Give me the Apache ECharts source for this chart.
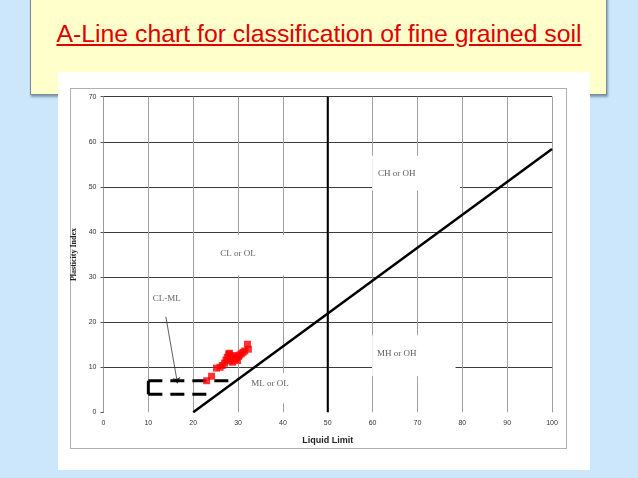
<!DOCTYPE html>
<html>
<head>
<meta charset="utf-8">
<script src="https://cdn.jsdelivr.net/npm/echarts@6/dist/echarts.min.js"></script>
<style>
  html, body { margin: 0; padding: 0; }
  body { width: 638px; height: 478px; background: #cce6fc; position: relative; overflow: hidden; }
  #ybox { position: absolute; left: 30px; top: -4px; width: 575px; height: 97px; background: #ffffcc; border: 1px solid #7a8a99; box-shadow: 1px 2px 2px rgba(60,80,100,0.5); }
  #title { position: absolute; left: 0; top: 20px; width: 638px; text-align: center; font-family: "Liberation Sans", Arial, sans-serif; font-size: 24.8px; color: #e00000; text-decoration: underline; white-space: nowrap; }
  #panel { position: absolute; left: 58px; top: 72px; width: 532px; height: 398px; background: #ffffff; }
  #frame { position: absolute; left: 70px; top: 88px; width: 495px; height: 359px; border: 1px solid #b0b0b0; background: #fff; }
  #chart { position: absolute; left: 0; top: 0; width: 638px; height: 478px; }
</style>
</head>
<body>
<div id="ybox"></div>
<div id="title">A-Line chart for classification of fine grained soil</div>
<div id="panel"></div>
<div id="frame"></div>
<div id="chart"></div>
<script>
// ---- data ----
var xTicks = [0, 10, 20, 30, 40, 50, 60, 70, 80, 90, 100];
var yTicks = [0, 10, 20, 30, 40, 50, 60, 70];
var soilSamples = [
  [23.0, 7.0], [24.1, 8.0], [25.2, 9.8], [26.0, 10.0], [26.5, 10.4], [27.0, 10.9],
  [27.3, 11.6], [27.6, 12.2], [27.9, 12.9], [28.1, 13.1], [28.2, 11.4], [28.5, 12.3],
  [28.8, 11.1], [29.0, 12.6], [29.3, 11.8], [29.6, 12.1], [29.9, 11.5], [30.1, 12.4],
  [30.4, 12.7], [30.7, 13.0], [31.1, 13.3], [31.5, 13.6], [32.3, 14.0], [32.1, 15.1]
];
var aLine = [[20, 0], [100, 58.4]];
var llFifty = [[50, 0], [50, 70]];
var clmlTop = [[10, 7], [28.6, 7]];
var clmlBottom = [[10, 4], [23.4, 4]];
var clmlSide = [[10, 4], [10, 7]];
var clmlArrow = [[13.9, 21.2], [16.5, 6.4]];
var zoneLabels = [
  { name: 'CL or OL', value: [30.0, 35.3] },
  { name: 'CH or OH', value: [65.4, 53.0] },
  { name: 'MH or OH', value: [65.4, 13.0] },
  { name: 'ML or OL', value: [37.1, 6.3] },
  { name: 'CL-ML', value: [14.1, 25.3] }
];
var labelMasks = [
  [[22, 30.4], [42, 39.3]],
  [[59.9, 49.2], [79.5, 56.9]],
  [[59.9, 8.0], [78.5, 17.1]],
  [[33, 2.0], [46, 8.7]]
];

var chart = echarts.init(document.getElementById('chart'), null, { renderer: 'canvas' });
var serif = '"Liberation Serif", "Times New Roman", serif';
var sans = '"Liberation Sans", Arial, sans-serif';

function segSeries(data, width, dash, z) {
  return {
    type: 'line', data: data, symbol: 'none', silent: true, animation: false, z: z || 5,
    lineStyle: { color: '#000', width: width, type: dash || 'solid', cap: 'butt' }
  };
}

var option = {
  backgroundColor: 'transparent',
  animation: false,
  grid: { left: 103.5, right: 86, top: 96.7, bottom: 65.7 },
  xAxis: {
    type: 'value', min: 0, max: 100, interval: 10,
    name: 'Liquid Limit', nameLocation: 'middle', nameGap: 24,
    nameTextStyle: { fontFamily: sans, fontSize: 9, fontWeight: 'bold', color: '#222' },
    axisLine: { show: false },
    axisTick: { show: false },
    axisLabel: { fontFamily: sans, fontSize: 7, color: '#333', margin: 7 },
    splitLine: { show: true, lineStyle: { color: '#a0a0a0', width: 1 } }
  },
  yAxis: {
    type: 'value', min: 0, max: 70, interval: 10,
    name: 'Plasticity Index', nameLocation: 'middle', nameGap: 24, nameRotate: 90,
    nameTextStyle: { fontFamily: serif, fontSize: 8, fontWeight: 'bold', color: '#222' },
    axisLine: { show: true, lineStyle: { color: '#9a9a9a', width: 1 } },
    axisTick: { show: true, length: 3, lineStyle: { color: '#555' } },
    axisLabel: { fontFamily: sans, fontSize: 7, color: '#333', margin: 7 },
    splitLine: { show: true, lineStyle: { color: ['rgba(0,0,0,0)', '#3c3c3c', '#3c3c3c', '#3c3c3c', '#3c3c3c', '#3c3c3c', '#3c3c3c', '#3c3c3c'], width: 1 } }
  },
  series: [
    {
      type: 'line', data: [], silent: true, z: 1,
      markArea: {
        silent: true,
        itemStyle: { color: '#ffffff', borderWidth: 0 },
        label: { show: false },
        data: labelMasks.map(function (m) { return [{ coord: m[0] }, { coord: m[1] }]; })
      }
    },
    segSeries(aLine, 2.5),
    segSeries(llFifty, 2),
    segSeries(clmlTop, 3, [14, 8]),
    segSeries(clmlBottom, 3, [14, 8]),
    segSeries(clmlSide, 3),
    {
      type: 'lines', coordinateSystem: 'cartesian2d', silent: true, z: 5,
      symbol: ['none', 'arrow'], symbolSize: 6,
      lineStyle: { color: '#333', width: 0.8, opacity: 1 },
      data: [{ coords: clmlArrow }]
    },
    {
      type: 'scatter', data: soilSamples, symbol: 'rect', symbolSize: 7, z: 6,
      itemStyle: { color: '#ff0000' }
    },
    {
      type: 'scatter', data: zoneLabels, symbolSize: 0, z: 7, silent: true,
      label: {
        show: true, position: 'inside', formatter: function (p) { return p.name; },
        fontFamily: serif, fontSize: 9, color: '#333'
      }
    }
  ]
};
chart.setOption(option);
</script>
</body>
</html>
